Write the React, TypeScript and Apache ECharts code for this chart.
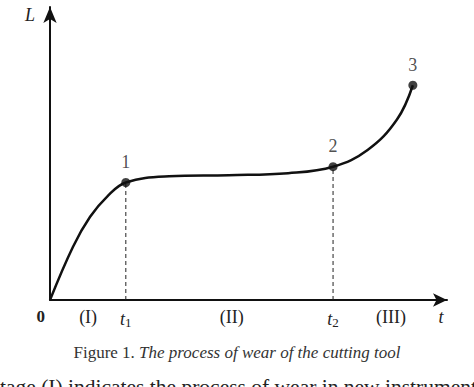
import React, { useEffect, useRef } from "react";
import * as echarts from "echarts";

// Wear curve L(t) (t and L in arbitrary units 0..100)
const curveT = [0, 5.8, 10.1, 14.4, 19.1, 30, 45, 60, 71.3, 80, 87.4, 91.4];
const curveL = [0, 18.2, 28.4, 35.3, 40.1, 42.2, 42.6, 43.3, 45.5, 51.2, 61.6, 73.3];

// Marked points 1, 2, 3
const pointT = [19.1, 71.3, 91.4];
const pointL = [40.1, 45.5, 73.3];
const pointLabels = ["1", "2", "3"];

// Boundaries drawn as dashed drop lines (t1, t2)
const dropT = [19.1, 71.3];
const dropL = [40.1, 45.5];

// Tick labels under the t axis
const tickValues = [9.6, 19.1, 45.8, 71.3, 85.9, 98.5];
const tickTexts = ["(I)", "{it|t}{sub|1}", "(II)", "{it|t}{sub|2}", "(III)", "{it|t}"];
const originLabel = "0";

const yAxisName = "L";
const captionPlain = "Figure 1. ";
const captionItalic = "The process of wear of the cutting tool";
const bodyText = "Stage (I) indicates the process of wear in new instruments";

const FONT = "Liberation Serif";

export default function App() {
  const ref = useRef<HTMLDivElement>(null);
  useEffect(() => {
    if (!ref.current) return;
    const chart = echarts.init(ref.current, null, { renderer: "svg" });
    const dropSeries = dropT.map((t, i) => ({
      type: "line",
      data: [
        [t, 0],
        [t, dropL[i]],
      ],
      symbol: "none",
      silent: true,
      lineStyle: { color: "#222", width: 1, type: [4, 3] },
      z: 1,
    }));
    chart.setOption({
      animation: false,
      backgroundColor: "#fff",
      textStyle: { fontFamily: FONT },
      grid: { left: 50, right: 27, top: 7, bottom: 87, containLabel: false },
      xAxis: {
        type: "value",
        min: 0,
        max: 100,
        splitLine: { show: false },
        axisTick: { show: false },
        axisLine: {
          lineStyle: { color: "#111", width: 2 },
          symbol: ["none", "arrow"],
          symbolSize: [10, 14],
        },
        axisLabel: {
          customValues: tickValues,
          margin: 8,
          fontFamily: FONT,
          fontSize: 18,
          color: "#222",
          formatter: (v: number) => {
            let best = 0;
            tickValues.forEach((tv, i) => {
              if (Math.abs(tv - v) < Math.abs(tickValues[best] - v)) best = i;
            });
            return tickTexts[best];
          },
          rich: {
            it: { fontFamily: FONT, fontStyle: "italic", fontSize: 18, color: "#222" },
            sub: { fontFamily: FONT, fontSize: 13, color: "#222", padding: [8, 0, 0, 0] },
          },
        },
      },
      yAxis: {
        type: "value",
        min: 0,
        max: 100,
        splitLine: { show: false },
        axisTick: { show: false },
        axisLine: {
          lineStyle: { color: "#111", width: 2 },
          symbol: ["none", "arrow"],
          symbolSize: [10, 16],
        },
        axisLabel: {
          customValues: [0],
          formatter: () => originLabel,
          verticalAlign: "top",
          padding: [8, 0, 0, 0],
          margin: 5,
          fontFamily: FONT,
          fontWeight: "bold",
          fontSize: 17,
          color: "#222",
        },
      },
      series: [
        ...dropSeries,
        {
          type: "line",
          data: curveT.map((t, i) => [t, curveL[i]]),
          smooth: 0.4,
          symbol: "none",
          lineStyle: { color: "#111", width: 2.5 },
          z: 2,
        },
        {
          type: "scatter",
          data: pointT.map((t, i) => [t, pointL[i]]),
          symbol: "circle",
          symbolSize: 9,
          itemStyle: { color: "#111" },
          z: 3,
          label: {
            show: true,
            position: "top",
            distance: 7,
            fontFamily: FONT,
            fontSize: 18,
            color: "#222",
            textBorderWidth: 0,
            formatter: (p: any) => pointLabels[p.dataIndex],
          },
        },
      ],
      graphic: [
        {
          type: "text",
          left: 25,
          top: 6,
          style: {
            text: yAxisName,
            fontFamily: FONT,
            fontStyle: "italic",
            fontSize: 18,
            fill: "#222",
          },
        },
        {
          type: "text",
          x: 237,
          y: 352,
          style: {
            text: `{n|${captionPlain}}{i|${captionItalic}}`,
            align: "center",
            verticalAlign: "middle",
            rich: {
              n: { fontFamily: FONT, fontSize: 17, fill: "#333" },
              i: { fontFamily: FONT, fontSize: 17, fontStyle: "italic", fill: "#333" },
            },
          },
        },
        {
          type: "text",
          x: -12,
          y: 376,
          style: {
            text: bodyText,
            fontFamily: FONT,
            fontSize: 21.5,
            fill: "#222",
            verticalAlign: "top",
            align: "left",
          },
        },
      ],
    });
    return () => chart.dispose();
  }, []);
  return <div ref={ref} style={{ width: 474, height: 387, position: "absolute", left: 0, top: 0 }} />;
}
